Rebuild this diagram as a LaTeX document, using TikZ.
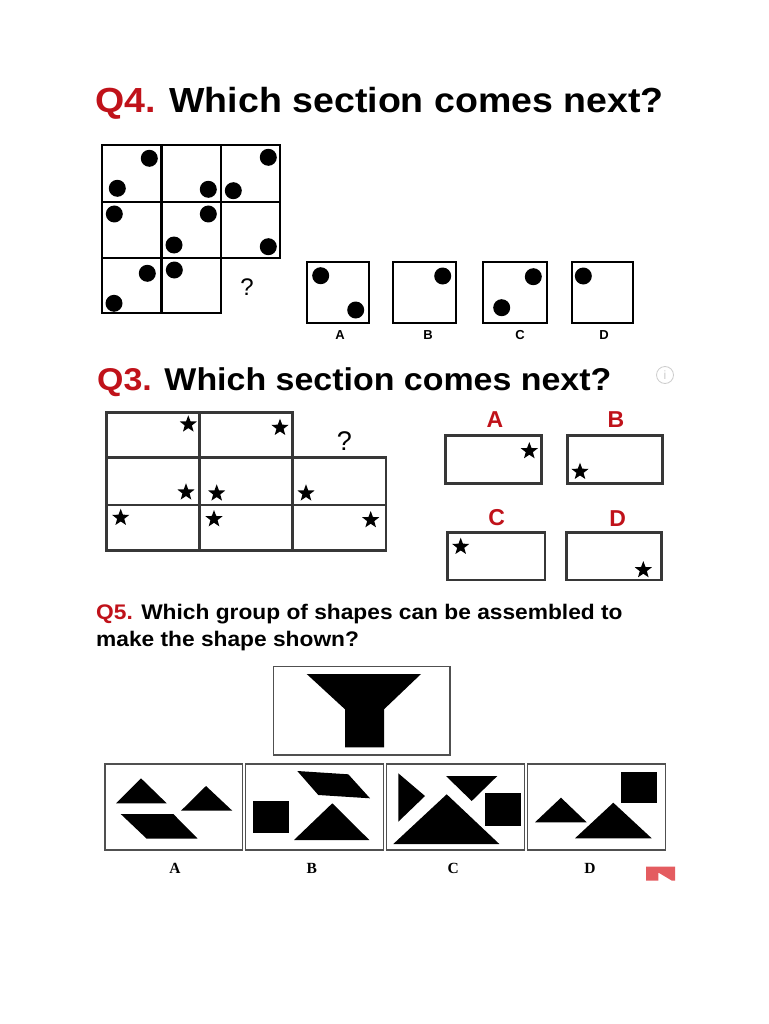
\documentclass[tikz,border=0pt]{standalone}
\usepackage{fontspec}
\setmainfont{Liberation Serif}
\newfontfamily\arial{Liberation Sans}
\usetikzlibrary{shapes.geometric}
\definecolor{qred}{RGB}{192,18,26}
\definecolor{boxgray}{RGB}{55,55,55}
\definecolor{fivegray}{RGB}{80,80,80}
\definecolor{flagred}{RGB}{228,92,96}
\definecolor{icongray}{RGB}{205,205,205}
\begin{document}
\begin{tikzpicture}[x=1pt,y=-1pt,
  dot/.style={circle,fill=black,inner sep=0,minimum size=17pt},
  starmark/.style={star,star points=5,star point ratio=2.4,fill=black,inner sep=0,minimum size=18pt},
  cellfour/.style={draw=black,line width=2.3pt},
  cellthree/.style={draw=boxgray,line width=2.8pt},
  optfour/.style={draw=black,line width=2.1pt},
  optthree/.style={draw=boxgray,line width=2.8pt},
  fivebox/.style={draw=fivegray,line width=1.5pt},
  shp/.style={fill=black},
  title/.style={anchor=base west,inner sep=0},
  lblfour/.style={inner sep=0,font=\arial\fontsize{13}{15}\selectfont\bfseries},
  lblthree/.style={inner sep=0,text=qred,font=\arial\fontsize{23}{25}\selectfont\bfseries},
  lblfive/.style={inner sep=0,font=\fontsize{15.5}{17}\selectfont\bfseries},
  qmark/.style={inner sep=0,font=\arial\fontsize{24}{26}\selectfont}
]
\useasboundingbox[fill=white] (0,0) rectangle (768,1024);

% ---------- Q4 ----------
\node[title] (t4) at (95,113) {\scalebox{1.12}[1.04]{\arial\fontsize{33.5}{36}\selectfont\bfseries\textcolor{qred}{Q4.} Which section comes next?}};

\draw[cellfour] (102,145) rectangle (161.5,202);
\draw[cellfour] (161.5,145) rectangle (221,202);
\draw[cellfour] (221,145) rectangle (280,202);
\draw[cellfour] (102,202) rectangle (161.5,258);
\draw[cellfour] (161.5,202) rectangle (221,258);
\draw[cellfour] (221,202) rectangle (280,258);
\draw[cellfour] (102,258) rectangle (161.5,313);
\draw[cellfour] (161.5,258) rectangle (221,313);

\node[dot] (d1) at (149.3,158.3) {};
\node[dot] (d2) at (117.3,188.3) {};
\node[dot] (d3) at (208.3,189.3) {};
\node[dot] (d4) at (268.3,157.3) {};
\node[dot] (d5) at (233.3,190.7) {};
\node[dot] (d6) at (114.3,214) {};
\node[dot] (d7) at (208.3,214) {};
\node[dot] (d8) at (174,245) {};
\node[dot] (d9) at (268.3,246.7) {};
\node[dot] (d10) at (147.3,273.3) {};
\node[dot] (d11) at (114,303.3) {};
\node[dot] (d12) at (174.3,270) {};
\node[qmark] (q4q) at (247,287) {?};

\draw[optfour] (306.7,262.3) rectangle (369,323.3);
\draw[optfour] (392.7,262.3) rectangle (456,323.3);
\draw[optfour] (483.3,262.3) rectangle (546.7,323.3);
\draw[optfour] (571.7,262.3) rectangle (633.3,323.3);
\node[dot] (oa1) at (320.7,275.7) {};
\node[dot] (oa2) at (355.7,310) {};
\node[dot] (ob1) at (442.7,276) {};
\node[dot] (oc1) at (533.3,276.7) {};
\node[dot] (oc2) at (501.7,307.7) {};
\node[dot] (od1) at (583.3,276) {};
\node[lblfour] (la4) at (340,335) {A};
\node[lblfour] (lb4) at (428,335) {B};
\node[lblfour] (lc4) at (520,335) {C};
\node[lblfour] (ld4) at (604,335) {D};

% ---------- Q3 ----------
\node[title] (t3) at (97,390) {\scalebox{1.12}[1.04]{\arial\fontsize{30.3}{33}\selectfont\bfseries\textcolor{qred}{Q3.} Which section comes next?}};
\node[circle,draw=icongray,line width=0.8pt,minimum size=17pt,inner sep=0,text=icongray,font=\arial\fontsize{12}{12}\selectfont] (info) at (665,375) {i};

\draw[cellthree] (106.7,412.3) rectangle (199.3,457.7);
\draw[cellthree] (199.3,412.3) rectangle (292.7,457.7);
\draw[cellthree] (106.7,457.7) rectangle (199.3,505);
\draw[cellthree] (199.3,457.7) rectangle (292.7,505);
\draw[cellthree] (292.7,457.7) rectangle (386,505);
\draw[cellthree] (106.7,505) rectangle (199.3,550.7);
\draw[cellthree] (199.3,505) rectangle (292.7,550.7);
\draw[cellthree] (292.7,505) rectangle (386,550.7);

\node[starmark] (s1) at (188.3,424.3) {};
\node[starmark] (s2) at (280,427.7) {};
\node[starmark] (s3) at (186,492.3) {};
\node[starmark] (s4) at (216.7,493.3) {};
\node[starmark] (s5) at (306,493.3) {};
\node[starmark] (s6) at (120.7,517.7) {};
\node[starmark] (s7) at (214,519) {};
\node[starmark] (s8) at (370.7,520) {};
\node[qmark,font=\arial\fontsize{27}{29}\selectfont] (q3q) at (344.3,441) {?};

\node[lblthree] (la3) at (495,420) {A};
\node[lblthree] (lb3) at (616,420) {B};
\node[lblthree] (lc3) at (496.7,517.3) {C};
\node[lblthree] (ld3) at (617.7,518.5) {D};
\draw[optthree] (445.7,435.7) rectangle (541.7,483.3);
\draw[optthree] (567.7,435.7) rectangle (662.7,483.3);
\draw[optthree] (447.3,532.3) rectangle (545,580);
\draw[optthree] (566.7,532.3) rectangle (661.7,580);
\node[starmark] (sa) at (529.3,451) {};
\node[starmark] (sb) at (580,471.7) {};
\node[starmark] (sc) at (460.7,546.7) {};
\node[starmark] (sd) at (643.3,570) {};

% ---------- Q5 ----------
\node[title] (t5a) at (96,619) {\scalebox{1.12}[1.04]{\arial\fontsize{20.3}{22}\selectfont\bfseries\textcolor{qred}{Q5.} Which group of shapes can be assembled to}};
\node[title] (t5b) at (96,646) {\scalebox{1.12}[1.04]{\arial\fontsize{20.3}{22}\selectfont\bfseries make the shape shown?}};

\draw[fivebox] (273.3,666.7) rectangle (450,755);
\fill[shp] (306.7,674) -- (421,674) -- (384,709.3) -- (384,747.3) -- (345,747.3) -- (345,709.3) -- cycle;

\draw[fivebox] (105,764) rectangle (242.7,850);
\draw[fivebox] (245.7,764) rectangle (383.3,850);
\draw[fivebox] (386.7,764) rectangle (524.3,850);
\draw[fivebox] (527.3,764) rectangle (665.7,850);

% A
\fill[shp] (141,778.3) -- (166.7,803.3) -- (116,803.3) -- cycle;
\fill[shp] (206,786) -- (232.3,810.7) -- (181,810.7) -- cycle;
\fill[shp] (120.7,814) -- (173.3,814) -- (197.7,838.7) -- (146.7,838.7) -- cycle;
% B
\fill[shp] (252.7,800.7) rectangle (289,832.7);
\fill[shp] (297.3,771) -- (348.3,774.3) -- (370,798.3) -- (318.3,795) -- cycle;
\fill[shp] (332.3,803.3) -- (369.3,840) -- (294,840) -- cycle;
% C
\fill[shp] (398.3,773.3) -- (425,796) -- (398.3,821.7) -- cycle;
\fill[shp] (446,776) -- (497.3,776) -- (471.7,801) -- cycle;
\fill[shp] (446.7,794.3) -- (499.3,844) -- (393.3,844) -- cycle;
\fill[shp] (485,793.3) rectangle (520.7,826);
% D
\fill[shp] (561,797.7) -- (586.7,822.3) -- (535,822.3) -- cycle;
\fill[shp] (613.3,802.7) -- (651.7,838.3) -- (575,838.3) -- cycle;
\fill[shp] (620.7,771.7) rectangle (656.7,803.3);

\node[lblfive] (la5) at (175,868.3) {A};
\node[lblfive] (lb5) at (311.7,868.3) {B};
\node[lblfive] (lc5) at (453.3,868.3) {C};
\node[lblfive] (ld5) at (590,868.3) {D};

% corner mark
\fill[flagred] (646,866.7) -- (675,866.7) -- (675,880.7) -- (672,880.7) -- (658.3,872.5) -- (658.3,880.7) -- (646,880.7) -- cycle;
\end{tikzpicture}
\end{document}
